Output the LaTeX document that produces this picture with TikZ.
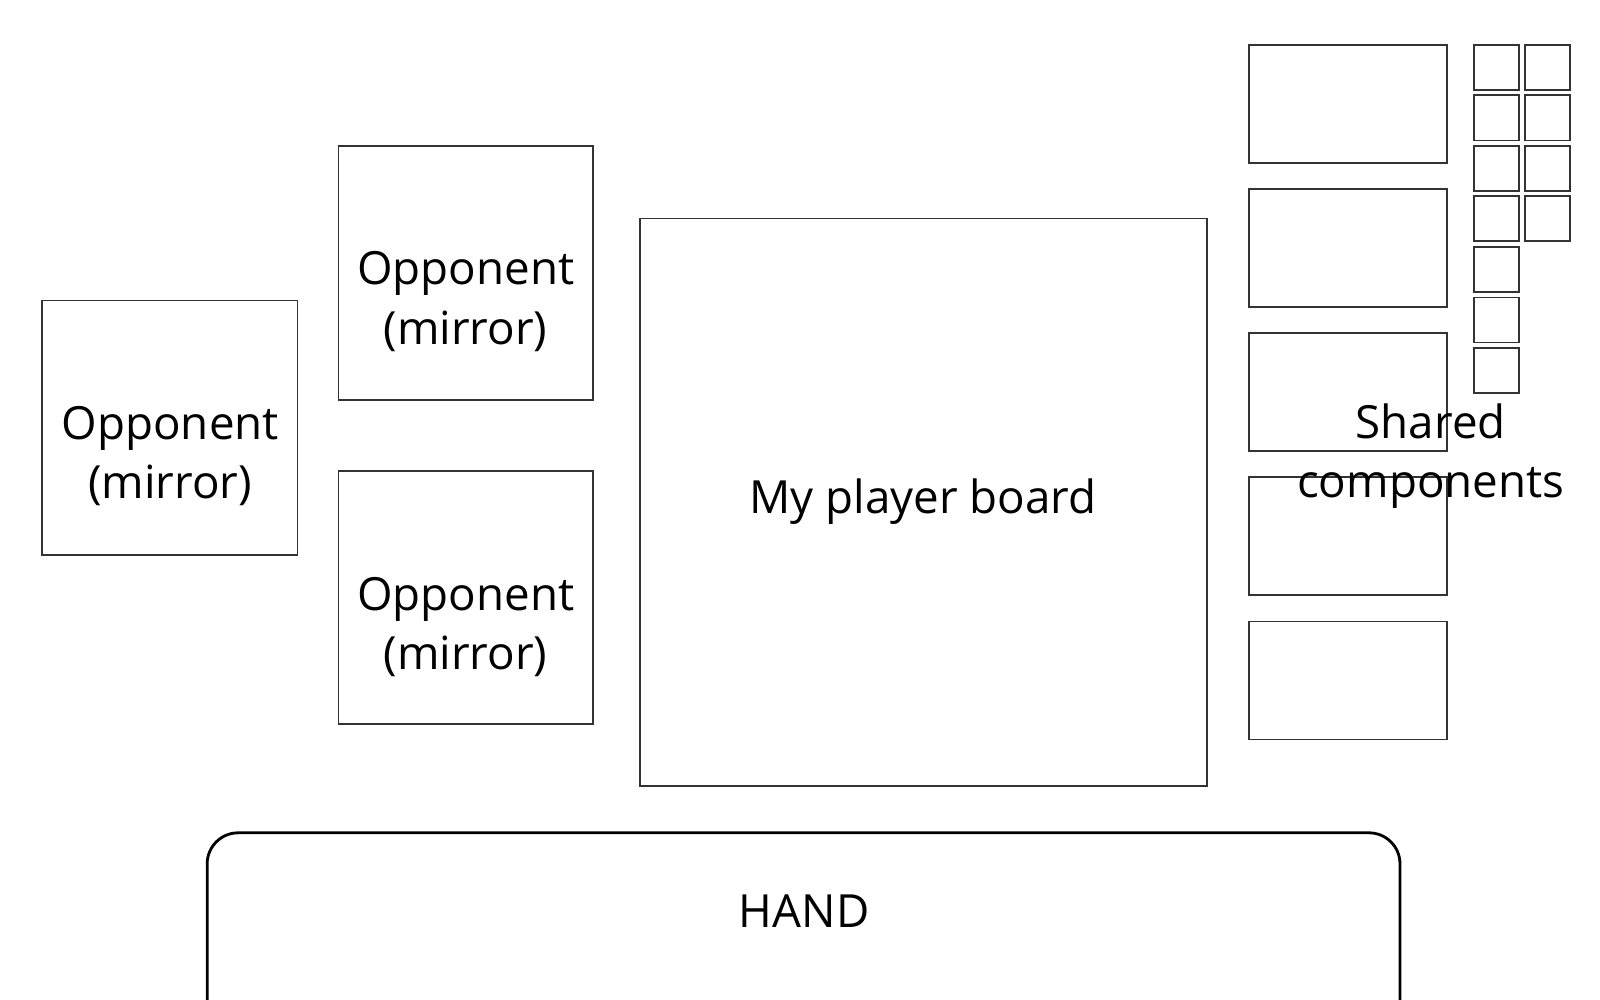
\documentclass[tikz,border=0pt]{standalone}
\usepackage{fontspec}
\setmainfont{Open Sans}
\begin{document}
\begin{tikzpicture}[x=0.01026cm,y=-0.01026cm,
  bx/.style={draw=black!80,line width=0.5pt},
  lbl/.style={align=center,font=\fontsize{13}{16.8}\selectfont}]
\useasboundingbox (0,0) rectangle (1560,975);
\draw[bx] (41,293) rectangle (290,541);
\node[lbl] (o1) at (166,445) {Opponent\\(mirror)};
\draw[bx] (330,142) rectangle (578,390);
\node[lbl] (o2) at (454,294) {Opponent\\(mirror)};
\draw[bx] (330,459) rectangle (578,706);
\node[lbl] (o3) at (454,611) {Opponent\\(mirror)};
\draw[bx] (624,213) rectangle (1177,766);
\node[lbl] (me) at (900,489) {My player board};
\foreach \y in {44,184,325,465,606}{\draw[bx] (1218,\y) rectangle (1411,\y+115);}
\foreach \y in {44,93,142,191,241,290,339}{\draw[bx] (1437,\y) rectangle (1481,\y+44);}
\foreach \y in {44,93,142,191}{\draw[bx] (1487,\y) rectangle (1531,\y+44);}
\node[lbl] (sh) at (1395,445) {Shared\\components};
\draw[line width=0.8pt,rounded corners=0.31cm] (202,990) -- (202,812) -- (1365,812) -- (1365,990);
\node[lbl] (hand) at (784,888) {HAND};
\end{tikzpicture}
\end{document}
